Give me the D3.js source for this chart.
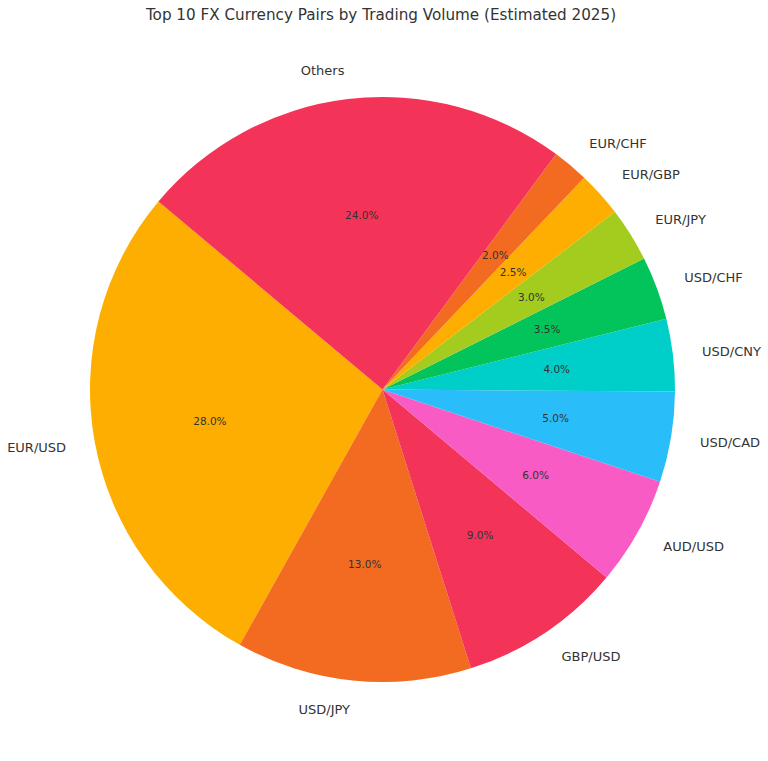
<!DOCTYPE html>
<html lang="en">
<head>
<meta charset="UTF-8">
<title>FX pairs pie</title>
<script src="https://d3js.org/d3.v7.min.js"></script>
<style>
  body { margin: 0; background: #fff; }
  text { font-family: "DejaVu Sans", sans-serif; fill: #333; }
</style>
</head>
<body>
<svg id="chart"></svg>
<script>
    const width = 768;
    const height = 761;

    const pairs = ["EUR/USD", "USD/JPY", "GBP/USD", "AUD/USD", "USD/CAD", "USD/CNY", "USD/CHF", "EUR/JPY", "EUR/GBP", "EUR/CHF", "Others"]
    const shares = [28, 13, 9, 6, 5, 4, 3.5, 3, 2.5, 2, 24]
    const colors = ["#fdae00", "#f26b21", "#f43358", "#f95bc4", "#29bdfa", "#00cec9", "#02c45a", "#a3cc1e", "#fdae00", "#f26b21", "#f43358"]

    const cx = 382.5, cy = 389.5, r = 292.5
    const startAngle = 140  // degrees, counterclockwise like matplotlib

    const svg = d3.select("#chart")
        .attr("width", width)
        .attr("height", height)

    svg.append("text")
        .attr("x", 381)
        .attr("y", 15)
        .attr("text-anchor", "middle")
        .attr("dominant-baseline", "central")
        .attr("font-size", 15.2)
        .text("Top 10 FX Currency Pairs by Trading Volume (Estimated 2025)")

    // matplotlib angle (deg, ccw from 3 o'clock) -> d3 angle (rad, cw from 12 o'clock)
    const toD3 = a => (90 - a) * Math.PI / 180

    const total = d3.sum(shares)
    let acc = startAngle
    const slices = shares.map((v, i) => {
        const a0 = acc, a1 = acc + v / total * 360
        acc = a1
        return {name: pairs[i], value: v, color: colors[i], a0, a1}
    })

    const arc = d3.arc().innerRadius(0).outerRadius(r)

    const g = svg.append("g").attr("transform", `translate(${cx},${cy})`)

    g.selectAll("path")
        .data(slices)
        .join("path")
        .attr("fill", d => d.color)
        .attr("d", d => arc({startAngle: toD3(d.a1), endAngle: toD3(d.a0)}))

    const fmt = d3.format(".1f")

    slices.forEach(d => {
        const mid = (d.a0 + d.a1) / 2 * Math.PI / 180
        const lx = 1.1 * r * Math.cos(mid), ly = -1.1 * r * Math.sin(mid)
        g.append("text")
            .attr("x", lx)
            .attr("y", ly)
            .attr("text-anchor", lx > 0 ? "start" : "end")
            .attr("dominant-baseline", "central")
            .attr("font-size", 13)
            .text(d.name)

        const px = 0.6 * r * Math.cos(mid), py = -0.6 * r * Math.sin(mid)
        g.append("text")
            .attr("x", px)
            .attr("y", py)
            .attr("text-anchor", "middle")
            .attr("dominant-baseline", "central")
            .attr("font-size", 10.5)
            .text(fmt(d.value / total * 100) + "%")
    })
</script>
</body>
</html>
